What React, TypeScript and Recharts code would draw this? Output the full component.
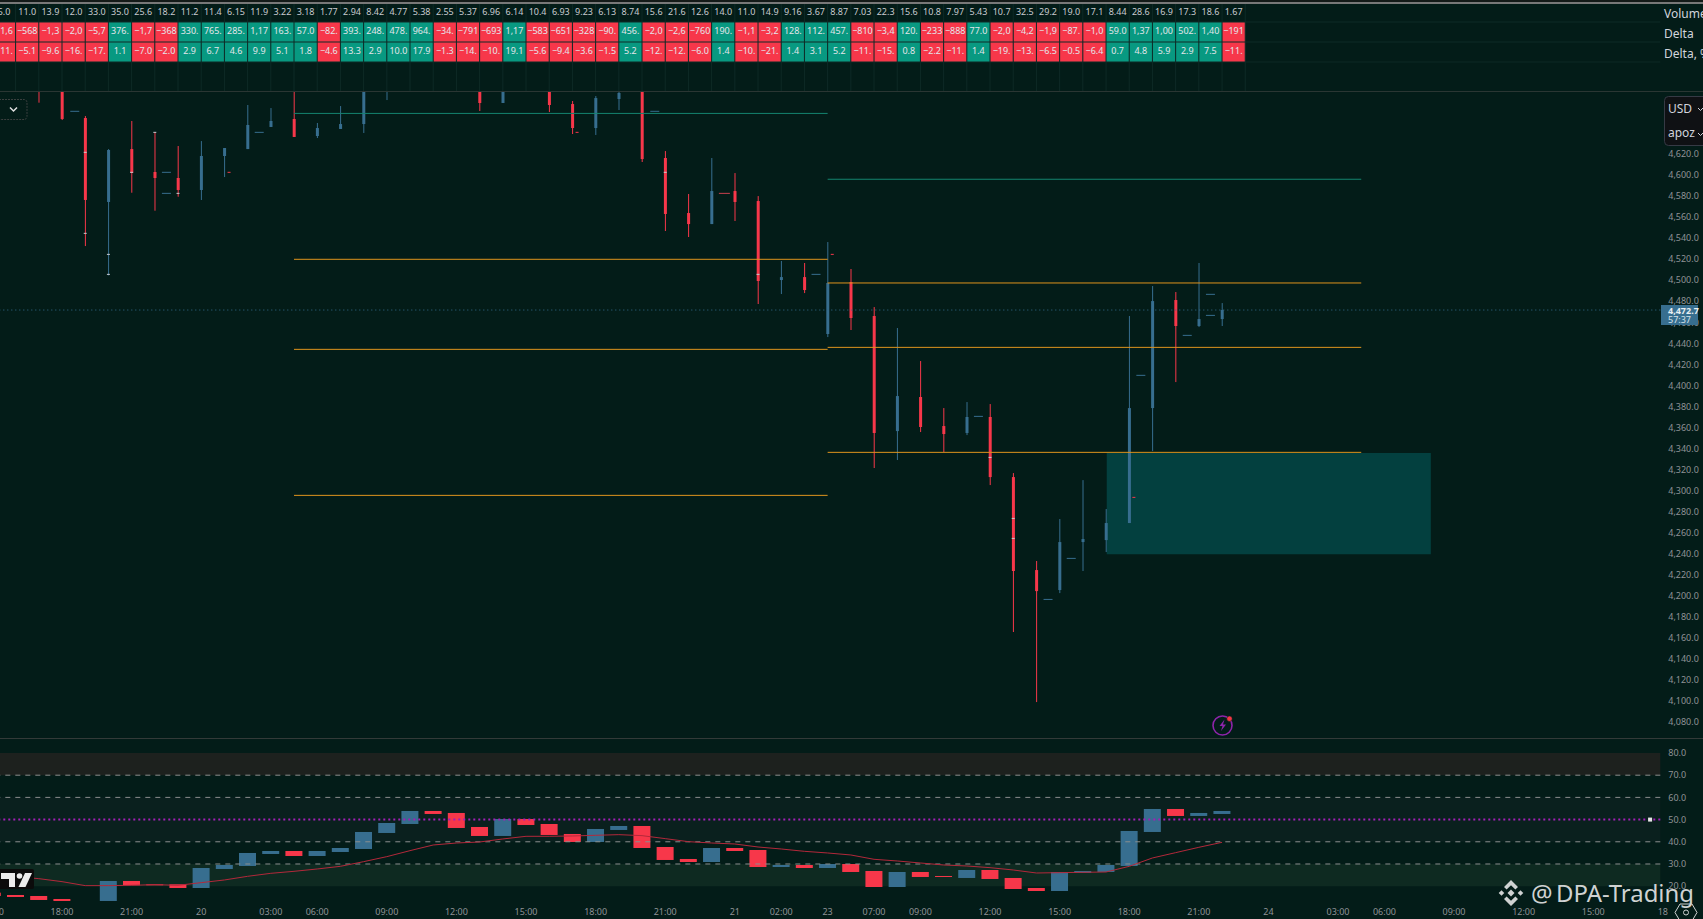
import React from "react";
import { ComposedChart, Bar, Line, Scatter, XAxis, YAxis, ReferenceLine, ReferenceArea, ReferenceDot } from "recharts";

// ---------- data ----------
const volumeRow = ["5.0","11.0","13.9","12.0","33.0","35.0","25.6","18.2","11.2","11.4","6.15","11.9","3.22","3.18","1.77","2.94","8.42","4.77","5.38","2.55","5.37","6.96","6.14","10.4","6.93","9.23","6.13","8.74","15.6","21.6","12.6","14.0","11.0","14.9","9.16","3.67","8.87","7.03","22.3","15.6","10.8","7.97","5.43","10.7","32.5","29.2","19.0","17.1","8.44","28.6","16.9","17.3","18.6","1.67"];
const deltaRow = ["−1,6","−568","−1,3","−2,0","−5,7","376.","−1,7","−368","330.","765.","285.","1,17","163.","57.0","−82.","393.","248.","478.","964.","−34.","−791","−693","1,17","−583","−651","−328","−90.","456.","−2,0","−2,6","−760","190.","−1,1","−3,2","128.","112.","457.","−810","−3,4","120.","−233","−888","77.0","−2,0","−4,2","−1,9","−87.","−1,0","59.0","1,37","1,00","502.","1,40","−191"];
const deltaPctRow = ["−11.","−5.1","−9.6","−16.","−17.","1.1","−7.0","−2.0","2.9","6.7","4.6","9.9","5.1","1.8","−4.6","13.3","2.9","10.0","17.9","−1.3","−14.","−10.","19.1","−5.6","−9.4","−3.6","−1.5","5.2","−12.","−12.","−6.0","1.4","−10.","−21.","1.4","3.1","5.2","−11.","−15.","0.8","−2.2","−11.","1.4","−19.","−13.","−6.5","−0.5","−6.4","0.7","4.8","5.9","2.9","7.5","−11."];
const rowLabels = ["Volume", "Delta", "Delta, %"];

const opens = [4715,4700,4654.2,4574.4,4624.7,4602.9,4597.2,4585.8,4618.1,4624.7,4645.7,4653.3,4637.1,4643.8,4648.5,4695,4700,4710,4700,4690,4668.5,4700,4690,4667.5,4644.7,4672.3,4700,4616.2,4563.9,4553.4,4584.8,4575.3,4500.2,4503,4448.9,4498.3,4466,4356.6,4389,4361.4,4354.8,4370,4312.9,4224.5,4205.5,4251.1,4253,4269.2,4378.5,4481.2,4456.5,4463.1];
const highs = [4725,4710,4656.1,4624.7,4651.4,4640.6,4627.6,4632.3,4625.7,4666.6,4663.7,4700,4649.5,4665.6,4700,4710,4720,4720,4715,4695,4700,4710,4700,4670.4,4675.1,4680,4710,4622.8,4582,4616.2,4601.9,4580,4518.3,4516.4,4536.3,4510.7,4474.5,4454.6,4423.2,4378.5,4384.2,4382.3,4316.7,4233.1,4273,4310,4282.5,4466,4494.5,4488.8,4516.4,4478.3];
const lows = [4668.8,4652.3,4532.5,4504.6,4583.2,4566.1,4579.4,4576.3,4598.1,4624.7,4645.7,4636.2,4635.2,4643.8,4640,4671.3,4690,4695,4695,4660.9,4668.5,4690,4659.9,4639,4638.1,4661.8,4612.4,4546.8,4541.1,4553.4,4556.3,4477.4,4486.9,4487.8,4446,4452.7,4321.5,4329.1,4355.7,4336.7,4352.8,4305.3,4165.6,4099,4202.6,4223.6,4241.6,4269.2,4337.6,4403.2,4455.5,4456.5];
const closes = [4690,4653.3,4576.3,4623.8,4602.2,4597.2,4585.8,4618.1,4625.7,4647.6,4651.4,4636.2,4644.7,4648.5,4690,4700,4710,4700,4705,4668.5,4690,4695,4666.6,4644.7,4673.2,4678,4615.2,4563,4553.4,4584.8,4574.4,4499.3,4503,4490.7,4497.4,4464.1,4354.8,4389.9,4360.5,4353.8,4370,4312.9,4223.6,4204.5,4251.1,4254,4269.2,4378.5,4480.2,4456.5,4463.1,4471.7];

const priceTicks = [4080,4100,4120,4140,4160,4180,4200,4220,4240,4260,4280,4300,4320,4340,4360,4380,4400,4420,4440,4460,4480,4500,4520,4540,4560,4580,4600,4620];
const lastPrice = 4472.7;
const countdown = "57:37";

const blueDashes = [{ i: 1.55, p: 4660.6 },{ i: 5.5, p: 4602.6 },{ i: 5.5, p: 4582.6 },{ i: 9.5, p: 4640.6 },{ i: 26.55, p: 4660.6 },{ i: 33.5, p: 4505.6 },{ i: 40.5, p: 4370.6 },{ i: 43.5, p: 4196.6 },{ i: 44.5, p: 4235.6 },{ i: 47.5, p: 4409.6 },{ i: 49.5, p: 4447.6 },{ i: 50.5, p: 4486.6 },{ i: 50.5, p: 4466.6 }];
const redLongDashes = [{ i: 29.55, p: 4582.6 }];
const redShortDashes = [{ i: 8.2, p: 4602.6 },{ i: 23.2, p: 4640.6 },{ i: 34.2, p: 4524.6 },{ i: 47.2, p: 4293.6 }];
const whiteTicks = [{ i: 2, p: 4621.6 },{ i: 2, p: 4544.6 },{ i: 3, p: 4524.6 },{ i: 3, p: 4505.6 },{ i: 4, p: 4602.6 },{ i: 5, p: 4640.6 },{ i: 6, p: 4582.6 },{ i: 27, p: 4602.6 },{ i: 31, p: 4505.6 },{ i: 41, p: 4331.6 },{ i: 42, p: 4273.6 },{ i: 42, p: 4254.6 }];

const tealLevels = [{ from: 11, to: 34, p: 4658.6 },{ from: 34, to: 57, p: 4596 }];
const orangeLevels = [{ from: 11, to: 34, p: 4519.9 },{ from: 11, to: 34, p: 4434.3 },{ from: 11, to: 34, p: 4295.5 },{ from: 34, to: 57, p: 4497.4 },{ from: 34, to: 57, p: 4436.2 },{ from: 34, to: 57, p: 4336.4 }];
const demandZone = { from: 46.03, to: 60, top: 4335.7, bottom: 4239.5 };

const rsiOpen = [17.09,16.04,15.59,14.24,13.34,13.34,22.35,20.85,20.85,19.19,27.75,29.10,34.51,35.86,33.61,35.41,36.76,43.97,48.02,53.88,52.98,46.67,42.62,50.27,48.02,43.52,39.91,45.32,47.12,37.66,32.26,30.90,37.21,36.31,28.65,29.55,28.20,30.0,26.85,19.64,26.40,24.60,23.70,27.30,23.70,19.19,17.84,25.95,26.40,29.10,44.42,54.78,51.63,52.53];
const rsiClose = [15.59,15.14,13.79,13.34,13.34,22.35,20.40,20.40,19.19,28.20,29.55,34.96,35.86,33.61,35.86,37.21,44.42,48.47,53.88,52.53,46.22,42.62,50.27,47.57,43.07,39.91,45.77,47.12,37.21,31.81,30.90,37.21,35.86,28.65,29.55,28.20,30.0,26.40,19.64,26.40,24.15,24.15,27.30,23.25,18.74,17.84,26.40,26.85,29.55,44.87,54.78,51.63,52.98,53.88];
const rsiMa = [null,24.30,23.40,22.05,20.25,20.25,20.40,20.70,20.40,21.60,22.80,24.45,25.80,26.70,27.75,28.95,31.05,33.31,36.01,38.56,39.46,39.91,41.27,42.47,42.47,42.62,42.92,43.22,42.77,41.42,40.06,39.46,39.01,37.66,36.76,35.71,34.96,34.06,32.11,31.36,30.45,29.55,29.10,28.35,27.30,25.95,26.10,26.25,26.40,28.95,32.71,35.11,37.51,39.76];
const rsiTicks = [20,30,40,50,60,70,80];
const rsiDashed = [30,40,60,70];
const rsiBands = [{ lo: 70, hi: 80, fill: "#1d211e" },{ lo: 40, hi: 60, fill: "#0a201e" },{ lo: 20, hi: 30, fill: "#0e2a21" }];

const timeIdx = [-2,1,4,7,10,12,15,18,21,24,27,30,32,34,36,38,41,44,47,50,53,56,58,61,64,67,70];
const timeLabels = ["15:00","18:00","21:00","20","03:00","06:00","09:00","12:00","15:00","18:00","21:00","21","02:00","23","07:00","09:00","12:00","15:00","18:00","21:00","24","03:00","06:00","09:00","12:00","15:00","18"];

// ---------- layout / style ----------
const BG = "#031c18";
const RED = "#f7374a";
const GREEN = "#089981";
const BLUE = "#376e8f";
const ORANGE = "#e0951d";
const TEAL = "#14856f";
const FONT = "'Noto Sans', sans-serif";
const X_DOMAIN: [number, number] = [-4, 69.89];
const CHART_LEFT = -54.3;
const CHART_W = 1757.3;
const AXIS_W = 43;

const candles = opens.map((o, i) => ({ i, o, h: highs[i], l: lows[i], c: closes[i] }));
const rsiBars = rsiOpen.map((o, k) => ({ i: k - 2, o, c: rsiClose[k], ma: rsiMa[k] }));
const tableData = volumeRow.map((v, k) => ({ i: k - 1.5, vol: v, delta: deltaRow[k], pct: deltaPctRow[k] }));
const ROW_PAD = 29, ROW_H = 20, ROW_VOL = 18;

const CandleShape = (props: any) => {
  const { x, y, width, height, payload } = props;
  const top = Math.min(y, y + height);
  const h = Math.abs(height);
  const range = payload.h - payload.l || 1;
  const ypx = (p: number) => top + ((payload.h - p) / range) * h;
  const color = payload.c >= payload.o ? BLUE : RED;
  const bTop = ypx(Math.max(payload.o, payload.c));
  const bBot = ypx(Math.min(payload.o, payload.c));
  return (
    <g>
      <rect x={x + width / 2 - 0.5} y={top} width={1} height={h} fill={color} />
      <rect x={x} y={bTop} width={width} height={Math.max(bBot - bTop, 1)} fill={color} />
    </g>
  );
};

const RsiShape = (props: any) => {
  const { x, y, width, height, payload } = props;
  if (payload.o === payload.c) return null;
  const top = Math.min(y, y + height);
  return <rect x={x} y={top} width={width} height={Math.abs(height)} fill={payload.c >= payload.o ? BLUE : RED} />;
};

const dash = (w: number, color: string) => (props: any) => (
  <rect x={props.cx - w / 2} y={props.cy - 0.5} width={w} height={1} fill={color} />
);

const tableCell = (field: "vol" | "delta" | "pct") => (props: any) => {
  const { x, y, width, height, payload } = props;
  const text = payload[field];
  const src = field === "vol" ? null : payload.pct;
  const fill = src === null ? "none" : src.startsWith("−") ? RED : GREEN;
  return (
    <g>
      <rect x={x} y={y} width={width} height={height} fill={fill} />
      <text x={x + width / 2} y={y + height / 2 + 2} textAnchor="middle" fontFamily={FONT} fontSize={9} fill={field === "vol" ? "#c9cbd0" : "#e4e6ea"}>{text}</text>
    </g>
  );
};

const axisTick = { fill: "#8f9296", fontSize: 9, fontFamily: FONT };
const fmtPrice = (v: number) => v.toLocaleString("en-US", { minimumFractionDigits: 1, maximumFractionDigits: 1 });

const pane = (top: number, height: number): React.CSSProperties => ({ position: "absolute", left: CHART_LEFT, top, width: CHART_W, height, overflow: "hidden" });

export default function App() {
  return (
    <div style={{ position: "fixed", left: 0, top: 0, width: 1703, height: 919, overflow: "hidden", background: BG }}>
      {/* indicator table */}
      <div style={pane(0, 91)}>
        <ComposedChart width={CHART_W} height={91} data={tableData} margin={{ top: 0, right: AXIS_W, bottom: 0, left: 0 }} barGap={0}>
          <XAxis dataKey="i" type="number" domain={X_DOMAIN} hide allowDataOverflow />
          <YAxis type="number" domain={[0, 91]} hide />
          {volumeRow.map((_, k) => <ReferenceLine key={k} x={k - 2} stroke="#0e2a26" strokeWidth={1} />)}
          <ReferenceLine x={52} stroke="#0e2a26" strokeWidth={1} />
          {[29, 49, 69].map((v) => <ReferenceLine key={v} y={v} stroke="#0e2a26" strokeWidth={1} />)}
          <Bar dataKey={() => ROW_PAD} stackId="t" barSize={23.2} fill="none" isAnimationActive={false} />
          <Bar dataKey={() => ROW_H} stackId="t" barSize={23.2} shape={tableCell("pct")} isAnimationActive={false} />
          <Bar dataKey={() => ROW_H} stackId="t" barSize={23.2} shape={tableCell("delta")} isAnimationActive={false} />
          <Bar dataKey={() => ROW_VOL} stackId="t" barSize={23.2} shape={tableCell("vol")} isAnimationActive={false} />
        </ComposedChart>
      </div>

      {/* price pane */}
      <div style={pane(91, 648)}>
        <ComposedChart width={CHART_W} height={648} data={candles} margin={{ top: 0, right: 0, bottom: 0, left: 0 }}>
          <XAxis dataKey="i" type="number" domain={X_DOMAIN} hide allowDataOverflow />
          <YAxis orientation="right" type="number" width={AXIS_W} domain={[4063.9, 4679.9]} ticks={priceTicks} interval={0} allowDataOverflow axisLine={false} tickLine={false} tickSize={0} tickMargin={8} tick={axisTick} tickFormatter={fmtPrice} />
          <ReferenceArea x1={demandZone.from} x2={demandZone.to} y1={demandZone.bottom} y2={demandZone.top} fill="#03403f" fillOpacity={1} stroke="none" />
          <ReferenceLine y={closes[closes.length - 1]} stroke={BLUE} strokeDasharray="1 3" strokeWidth={1} />
          {tealLevels.map((l, k) => <ReferenceLine key={k} stroke={TEAL} strokeWidth={1} segment={[{ x: l.from, y: l.p }, { x: l.to, y: l.p }]} />)}
          {orangeLevels.map((l, k) => <ReferenceLine key={k} stroke={ORANGE} strokeWidth={1} segment={[{ x: l.from, y: l.p }, { x: l.to, y: l.p }]} />)}
          <Bar dataKey={(d: any) => [d.l, d.h]} barSize={3} shape={CandleShape} isAnimationActive={false} />
          <Scatter data={blueDashes} dataKey="p" shape={dash(9, BLUE)} isAnimationActive={false} />
          <Scatter data={redLongDashes} dataKey="p" shape={dash(11, "#c8414e")} isAnimationActive={false} />
          <Scatter data={redShortDashes} dataKey="p" shape={dash(3, RED)} isAnimationActive={false} />
          <Scatter data={whiteTicks} dataKey="p" shape={dash(3, "#c9cdd2")} isAnimationActive={false} />
        </ComposedChart>
      </div>

      {/* RSI pane */}
      <div style={pane(739, 180)}>
        <ComposedChart width={CHART_W} height={180} data={rsiBars} margin={{ top: 0, right: 0, bottom: 0, left: 0 }}>
          <XAxis dataKey="i" type="number" domain={X_DOMAIN} allowDataOverflow ticks={timeIdx} interval={0} height={14} axisLine={false} tickLine={false} tickSize={0} tickMargin={4} tick={axisTick} tickFormatter={(v: number) => timeLabels[timeIdx.indexOf(v)] ?? ""} />
          <YAxis orientation="right" type="number" width={AXIS_W} domain={[11.53, 86.3]} ticks={rsiTicks} interval={0} allowDataOverflow axisLine={false} tickLine={false} tickSize={0} tickMargin={8} tick={axisTick} tickFormatter={(v: number) => v.toFixed(1)} />
          {rsiBands.map((b) => <ReferenceArea key={b.lo} y1={b.lo} y2={b.hi} fill={b.fill} fillOpacity={1} stroke="none" />)}
          {rsiDashed.map((v) => <ReferenceLine key={v} y={v} stroke="#8c8f8f" strokeDasharray="5 5" strokeWidth={1} />)}
          <ReferenceLine y={50} stroke="#a31fb8" strokeDasharray="2 3" strokeWidth={2} />
          <Bar dataKey={(d: any) => [Math.min(d.o, d.c), Math.max(d.o, d.c)]} barSize={17} shape={RsiShape} isAnimationActive={false} />
          <Line dataKey="ma" stroke="#b3283a" strokeWidth={1} dot={false} type="linear" connectNulls isAnimationActive={false} />
          <ReferenceDot x={69.45} y={50} r={2} fill="#e6e6e6" stroke="none" shape={(p: any) => <rect x={p.cx - 2} y={p.cy - 2} width={4} height={4} fill="#e6e6e6" />} />
        </ComposedChart>
      </div>

      {/* chrome */}
      <svg width={1703} height={919} style={{ position: "absolute", left: 0, top: 0, pointerEvents: "none" }}>
        <rect x={0} y={0} width={1703} height={2} fill="#141a18" />
        <rect x={0} y={2} width={1703} height={2} fill="#787878" />
        <rect x={0} y={91} width={1703} height={1} fill="#2a3633" />
        <rect x={0} y={738} width={1703} height={1} fill="#333a38" />
        {rowLabels.map((t, k) => (
          <text key={t} x={1664} y={18 + k * 20} fontFamily={FONT} fontSize={12} fill="#d1d4dc">{t}</text>
        ))}
        {/* currency / unit box */}
        <rect x={1664.5} y={96.5} width={50} height={49} rx={4} fill="#0f1114" stroke="#363a45" />
        <text x={1668} y={113} fontFamily={FONT} fontSize={12} fill="#d1d4dc">USD</text>
        <text x={1668} y={137} fontFamily={FONT} fontSize={12} fill="#d1d4dc">apoz</text>
        <path d="M1698 108l2.5 2.5 2.5-2.5M1698 133l2.5 2.5 2.5-2.5" fill="none" stroke="#d1d4dc" strokeWidth={1} />
        {/* collapse button */}
        <rect x={-4} y={99.5} width={31} height={20} rx={3} fill="none" stroke="#3a3f3e" strokeDasharray="2 1" />
        <path d="M10 107.5l3.5 3.5 3.5-3.5" fill="none" stroke="#e0e0e0" strokeWidth={1.5} />
        {/* last price badge */}
        <rect x={1661} y={305} width={37} height={20} fill={BLUE} />
        <text x={1668} y={313.5} fontFamily={FONT} fontSize={9} fontWeight={700} fill="#e8eef2">{fmtPrice(lastPrice)}</text>
        <text x={1668} y={322.5} fontFamily={FONT} fontSize={9} fill="#d5e2ea">{countdown}</text>
        {/* lightning */}
        <circle cx={1222.5} cy={725.5} r={9.5} fill="none" stroke="#8e24aa" strokeWidth={1.6} />
        <path d="M1224.5 719.5l-5 6.5h3l-1.5 5 5-6.5h-3z" fill="#8e24aa" />
        <circle cx={1229.5} cy={718.7} r={2.7} fill="#f23645" stroke={BG} strokeWidth={0.5} />
        {/* TV logo */}
        <rect x={-2} y={869} width={36} height={20} rx={2} fill="#0b0b0b" />
        <path d="M1 873h14v14h-6v-8H1z" fill="#ececec" />
        <circle cx={19.5} cy={876} r={2.8} fill="#ececec" />
        <path d="M25 873h7l-6.5 14h-7z" fill="#ececec" />
        {/* watermark */}
        <g fill="#cfd2d2">
          <path d="M1511 880l7 7-2.6 2.6-4.4-4.4-4.4 4.4-2.6-2.6z" />
          <path d="M1511 906l7-7-2.6-2.6-4.4 4.4-4.4-4.4-2.6 2.6z" />
          <path d="M1511 889.5l3.5 3.5-3.5 3.5-3.5-3.5z" />
          <path d="M1501.5 890.2l2.8 2.8-2.8 2.8-2.8-2.8z" />
          <path d="M1520.5 890.2l2.8 2.8-2.8 2.8-2.8-2.8z" />
        </g>
        <text x={1531} y={902} fontFamily={FONT} fontSize={24} fill="#cfd2d2">@</text>
        <text x={1556} y={902} fontFamily={FONT} fontSize={24} fill="#cfd2d2" textLength={138} lengthAdjust="spacingAndGlyphs">DPA-Trading</text>
        {/* settings */}
        <path d="M1680 904h12l5 8.5-5 8.5h-12l-5-8.5z" fill="none" stroke="#cfd2d2" strokeWidth={1} />
        <circle cx={1686} cy={912.5} r={2.5} fill="none" stroke="#cfd2d2" strokeWidth={1} />
      </svg>
    </div>
  );
}
